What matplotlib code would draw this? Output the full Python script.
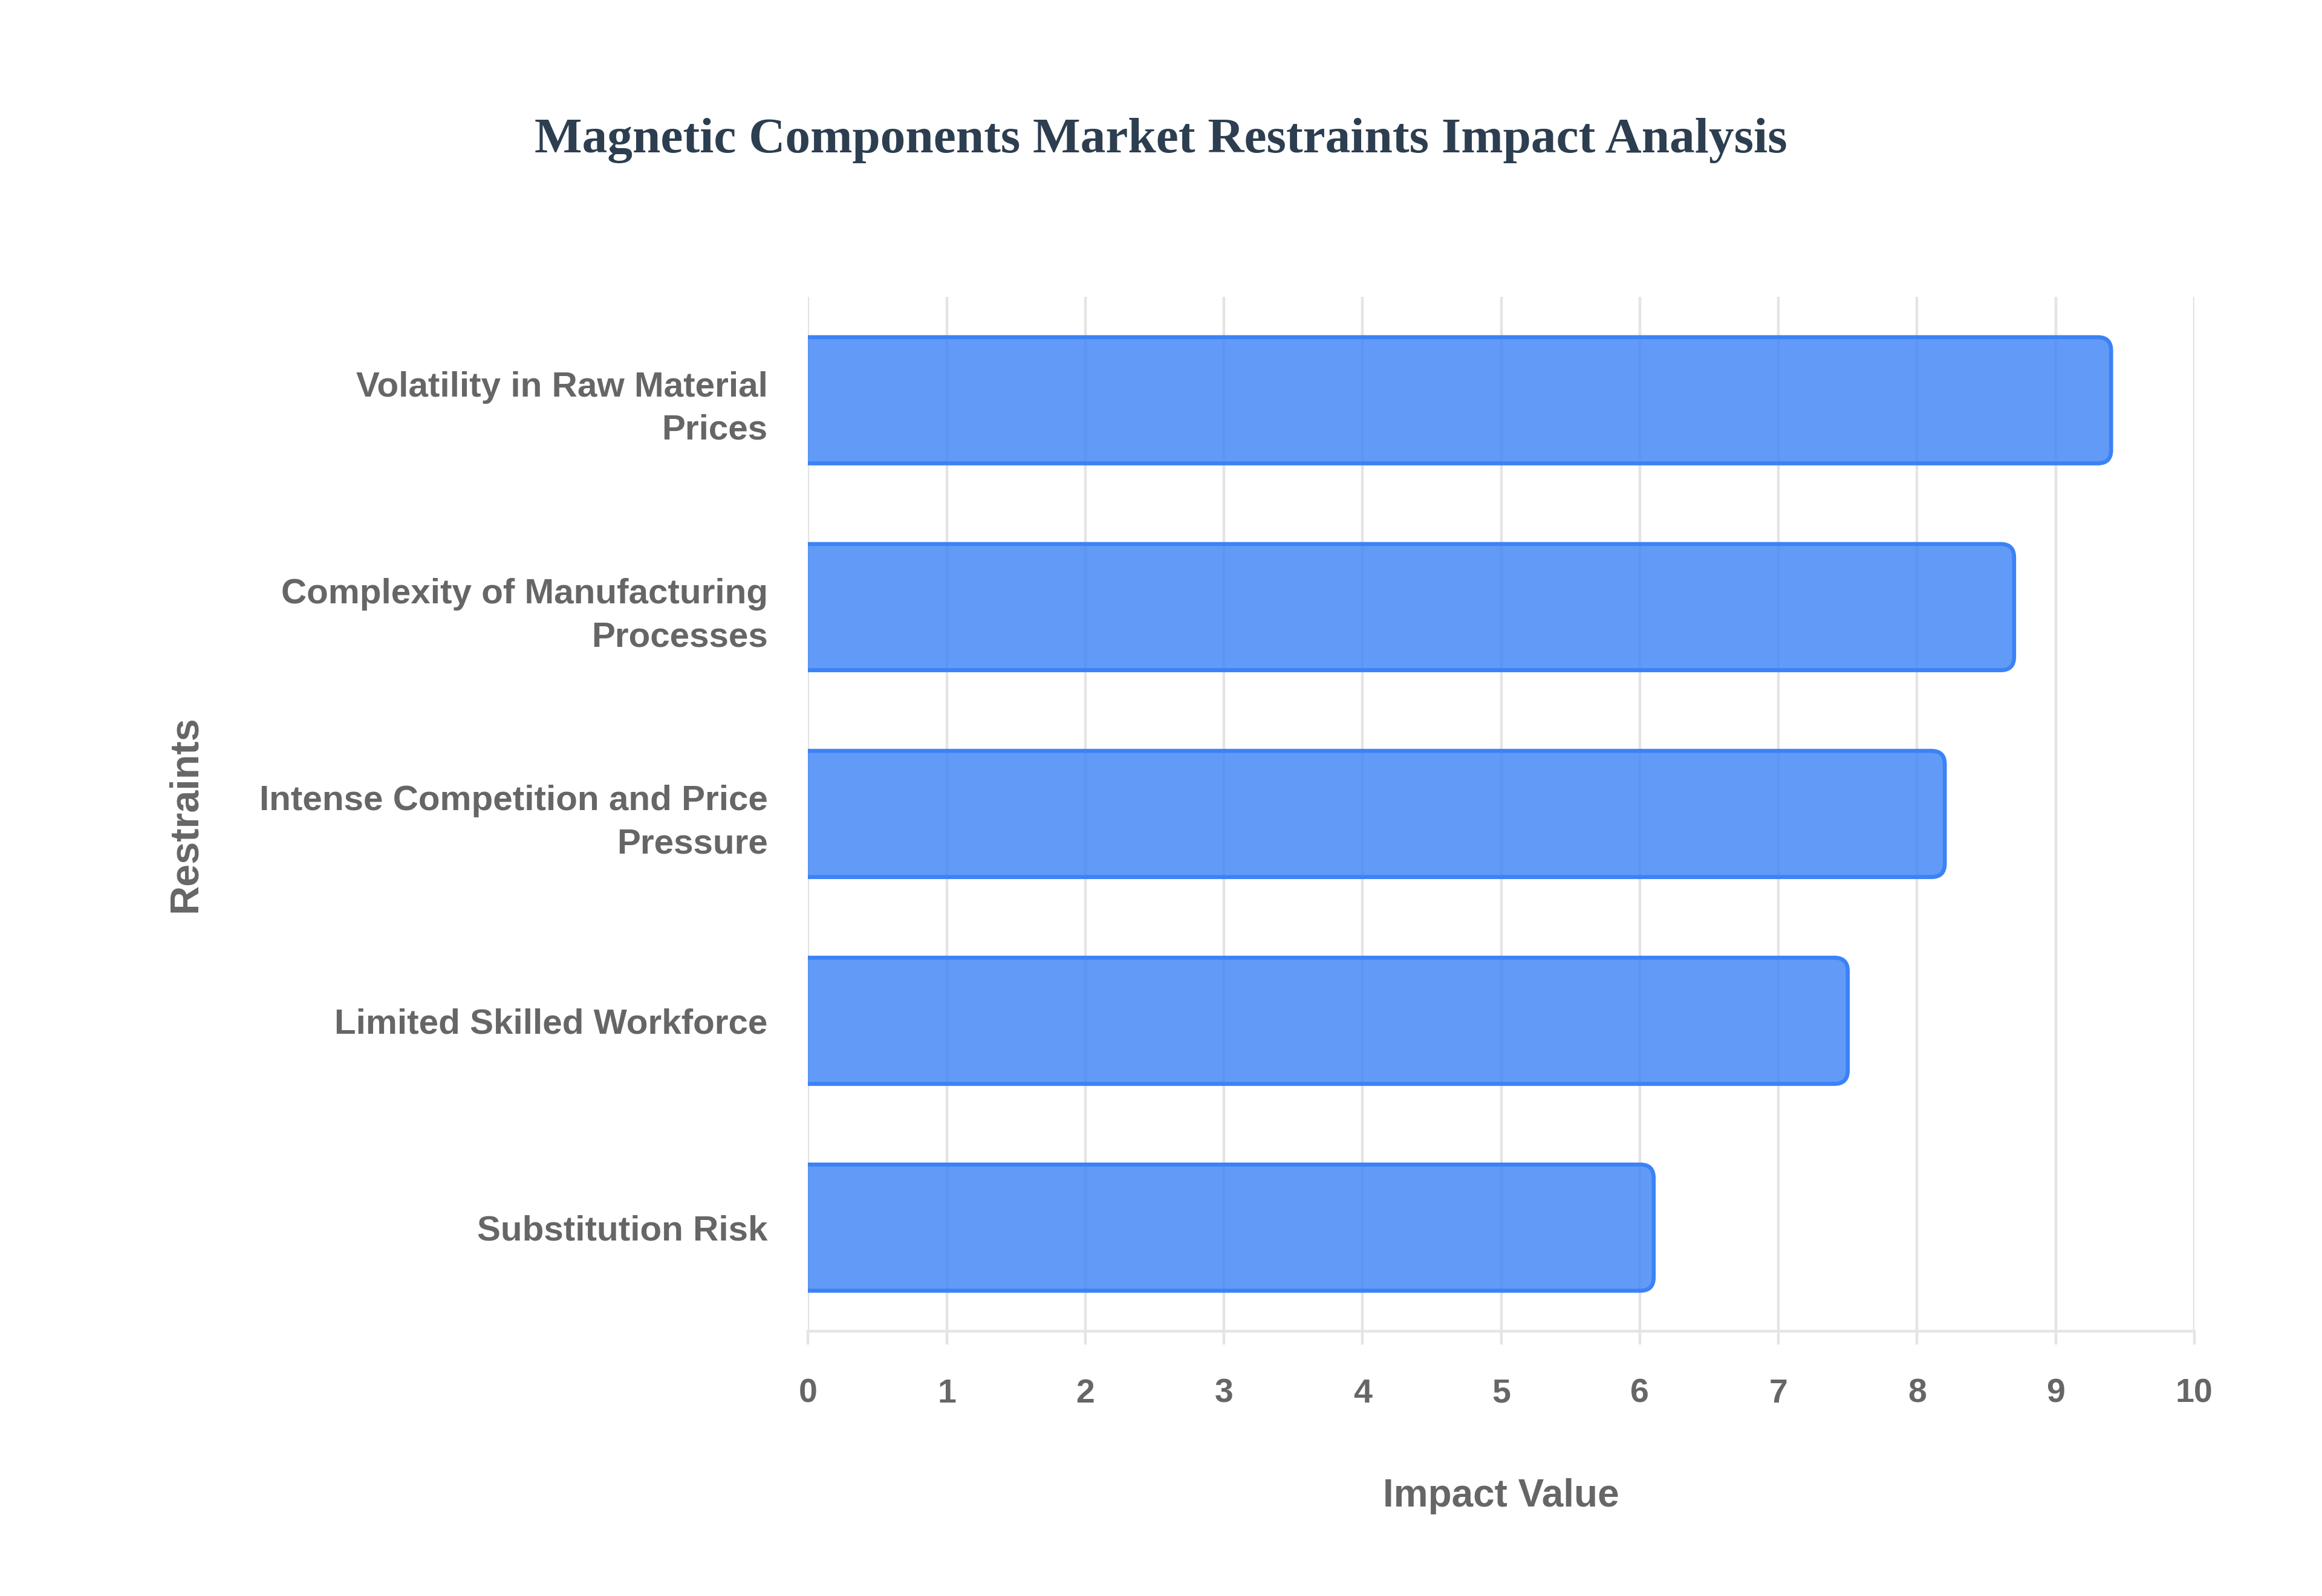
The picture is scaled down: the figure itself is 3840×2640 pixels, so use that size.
import matplotlib
matplotlib.use("Agg")
import matplotlib.pyplot as plt
from matplotlib.patches import FancyBboxPatch

restraints = [
    "Volatility in Raw Material\nPrices",
    "Complexity of Manufacturing\nProcesses",
    "Intense Competition and Price\nPressure",
    "Limited Skilled Workforce",
    "Substitution Risk",
]
impact = [9.4, 8.7, 8.2, 7.5, 6.1]
x_ticks = list(range(0, 11))

fill = (59 / 255, 130 / 255, 246 / 255, 0.8)
edge = "#3b82f6"
grey = "#666666"
grid_c = "#e4e4e4"

plt.rcParams["font.family"] = ["Liberation Sans", "DejaVu Sans"]

fig = plt.figure(figsize=(19.2, 13.2), dpi=200)
ax = fig.add_axes([0.348, 0.166, 0.597, 0.648])

ypos = list(range(len(restraints)))
ax.set_xlim(0, 10)
ax.set_ylim(len(restraints) - 0.5, -0.5)

# pixel scale -> aspect for rounded corners
fig.canvas.draw()
bb = ax.get_window_extent()
px_x = bb.width / 10
px_y = bb.height / len(restraints)
aspect = px_x / px_y
radius = 22 / px_x

bar_h = 0.61
for y, v in zip(ypos, impact):
    p = FancyBboxPatch((-0.3, y - bar_h / 2), v + 0.3, bar_h,
                       boxstyle=f"round,pad=0,rounding_size={radius}",
                       mutation_aspect=aspect,
                       facecolor=fill, edgecolor=edge, linewidth=2.4, zorder=3)
    ax.add_patch(p)

ax.set_xticks(x_ticks)
ax.set_xticklabels([str(t) for t in x_ticks])
ax.set_yticks(ypos)
ax.set_yticklabels(restraints, ha="right", multialignment="right", linespacing=1.4)

ax.grid(axis="x", color=grid_c, linewidth=1.6, zorder=0)
ax.grid(axis="y", visible=False)
for s in ["top", "right", "left"]:
    ax.spines[s].set_visible(False)
ax.spines["bottom"].set_color(grid_c)
ax.spines["bottom"].set_linewidth(1.6)

ax.tick_params(axis="x", colors=grid_c, length=8, width=1.6, pad=20,
               labelcolor=grey, labelsize=20)
ax.tick_params(axis="y", length=0, pad=24, labelcolor=grey, labelsize=21)
for lab in ax.get_xticklabels() + ax.get_yticklabels():
    lab.set_fontweight("bold")

ax.set_xlabel("Impact Value", fontsize=23, fontweight="bold", color=grey, va="center")
ax.set_ylabel("Restraints", fontsize=24, fontweight="bold", color=grey, va="center", ha="center")
ax.xaxis.set_label_coords(0.5, -0.16)
ax.yaxis.set_label_coords(-0.449, 0.5)

fig.text(0.5, 0.912, "Magnetic Components Market Restraints Impact Analysis",
         ha="center", va="center", fontsize=30, fontweight="bold",
         color="#2c3e50", family=["Liberation Serif", "DejaVu Serif"])

fig.savefig("out.png", dpi=200, facecolor="white")
